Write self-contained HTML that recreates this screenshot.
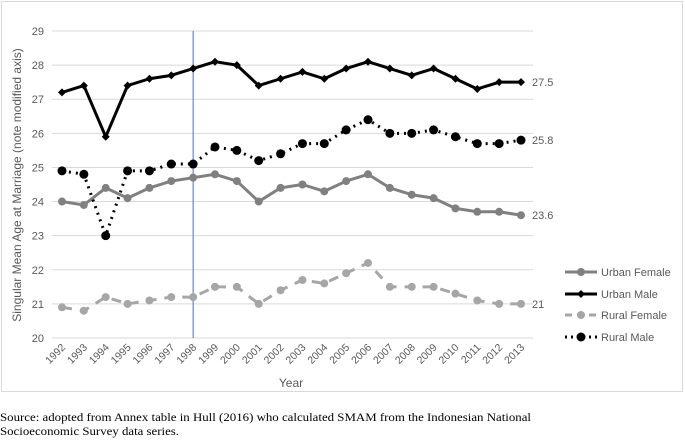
<!DOCTYPE html>
<html><head><meta charset="utf-8"><style>
body{margin:0;background:#fff;width:685px;height:440px;overflow:hidden}
svg{display:block}
</style></head><body>
<svg id="chart" width="685" height="440" xmlns="http://www.w3.org/2000/svg" font-family="Liberation Sans, sans-serif">
<rect x="1.5" y="1.5" width="681" height="390" fill="#fff" stroke="#d9d9d9" stroke-width="1"/>
<g id="grid"></g><g id="series"></g><g id="labels"></g>
<text transform="translate(21,185) rotate(-90)" text-anchor="middle" font-size="12" fill="#595959">Singular Mean Age at Marriage (note modified axis)</text>
<text x="291" y="387" text-anchor="middle" font-size="12" fill="#595959">Year</text>
<g font-size="11" fill="#595959">
<g><line x1="565" y1="272" x2="597" y2="272" stroke="#808080" stroke-width="3"/><circle cx="581" cy="272" r="4" fill="#808080"/><text x="601" y="276">Urban Female</text></g>
<g><line x1="565" y1="294" x2="597" y2="294" stroke="#000" stroke-width="3"/><path d="M581 290 L585 294 L581 298 L577 294Z" fill="#000"/><text x="601" y="298">Urban Male</text></g>
<g><line x1="565" y1="315" x2="597" y2="315" stroke="#a6a6a6" stroke-width="3" stroke-dasharray="7,5"/><circle cx="581" cy="315" r="4" fill="#a6a6a6"/><text x="601" y="319">Rural Female</text></g>
<g><line x1="565" y1="337" x2="597" y2="337" stroke="#000" stroke-width="3" stroke-dasharray="2,4"/><circle cx="581" cy="337" r="4.5" fill="#000"/><text x="601" y="341">Rural Male</text></g>
</g>
<g font-family="Liberation Serif, serif" font-size="12" fill="#000">
<text x="0" y="421" textLength="531" lengthAdjust="spacingAndGlyphs">Source: adopted from Annex table in Hull (2016) who calculated SMAM from the Indonesian National</text>
<text x="0" y="435" textLength="179" lengthAdjust="spacingAndGlyphs">Socioeconomic Survey data series.</text>
</g>
</svg>
<script>
const years=[1992,1993,1994,1995,1996,1997,1998,1999,2000,2001,2002,2003,2004,2005,2006,2007,2008,2009,2010,2011,2012,2013];
const yTicks=[20,21,22,23,24,25,26,27,28,29];
const urbanMale=[27.2,27.4,25.9,27.4,27.6,27.7,27.9,28.1,28.0,27.4,27.6,27.8,27.6,27.9,28.1,27.9,27.7,27.9,27.6,27.3,27.5,27.5];
const ruralMale=[24.9,24.8,23.0,24.9,24.9,25.1,25.1,25.6,25.5,25.2,25.4,25.7,25.7,26.1,26.4,26.0,26.0,26.1,25.9,25.7,25.7,25.8];
const urbanFemale=[24.0,23.9,24.4,24.1,24.4,24.6,24.7,24.8,24.6,24.0,24.4,24.5,24.3,24.6,24.8,24.4,24.2,24.1,23.8,23.7,23.7,23.6];
const ruralFemale=[20.9,20.8,21.2,21.0,21.1,21.2,21.2,21.5,21.5,21.0,21.4,21.7,21.6,21.9,22.2,21.5,21.5,21.5,21.3,21.1,21.0,21.0];
const endLabels=["27.5","25.8","23.6","21"];
const markerYear=1998;
const NS="http://www.w3.org/2000/svg";
const x0=62,x1=521,yTop=31,yBot=338;
const xs=i=>x0+(x1-x0)*i/(years.length-1);
const ys=v=>yBot-(v-20)/(29-20)*(yBot-yTop);
function mk(tag,attrs,parent){const e=document.createElementNS(NS,tag);for(const k in attrs)e.setAttribute(k,attrs[k]);parent.appendChild(e);return e;}
const grid=document.getElementById('grid'),ser=document.getElementById('series'),lab=document.getElementById('labels');
yTicks.forEach(t=>{
 const l=mk('line',{x1:52,x2:533,y1:ys(t),y2:ys(t),stroke:'#d9d9d9','stroke-width':1},grid);
 
 
 const tx=mk('text',{x:44,y:ys(t)+4,'text-anchor':'end','font-size':11,fill:'#595959'},lab);
 tx.textContent=t;
 
 
});
years.forEach((yr,i)=>{
 const tx=mk('text',{transform:`translate(${xs(i)+4},${yBot+10}) rotate(-45)`,'text-anchor':'end','font-size':10.5,fill:'#595959'},lab);
 tx.textContent=yr;
 
 
});
const vi=years.indexOf(markerYear);
const vl=mk('line',{x1:xs(vi),x2:xs(vi),y1:yTop,y2:yBot,stroke:'#4472c4','stroke-width':1},ser);


const defs=[
 {d:ruralFemale,c:'#a6a6a6',dash:'10,8',m:'circle',r:4,n:'rural-female'},
 {d:urbanFemale,c:'#808080',dash:'',m:'circle',r:4,n:'urban-female'},
 {d:ruralMale,c:'#000',dash:'2,5',m:'circle',r:4.5,n:'rural-male'},
 {d:urbanMale,c:'#000',dash:'',m:'diamond',r:4,n:'urban-male'}];
defs.forEach(s=>{
 const pts=s.d.map((v,i)=>xs(i)+','+ys(v)).join(' ');
 const pl=mk('polyline',{points:pts,fill:'none',stroke:s.c,'stroke-width':3,'stroke-dasharray':s.dash,'stroke-linejoin':'round'},ser);
 
 
 s.d.forEach((v,i)=>{
  let e;
  if(s.m==='circle') e=mk('circle',{cx:xs(i),cy:ys(v),r:s.r,fill:s.c},ser);
  else {const X=xs(i),Y=ys(v);e=mk('path',{d:`M${X} ${Y-4}L${X+4} ${Y}L${X} ${Y+4}L${X-4} ${Y}Z`,fill:s.c},ser);}
  
  
 });
});
[urbanMale,ruralMale,urbanFemale,ruralFemale].forEach((arr,k)=>{
 const v=arr[arr.length-1];
 const tx=mk('text',{x:532,y:ys(v)+4,'font-size':11,fill:'#595959'},lab);
 tx.textContent=endLabels[k];
 
 
});
</script>
</body></html>
